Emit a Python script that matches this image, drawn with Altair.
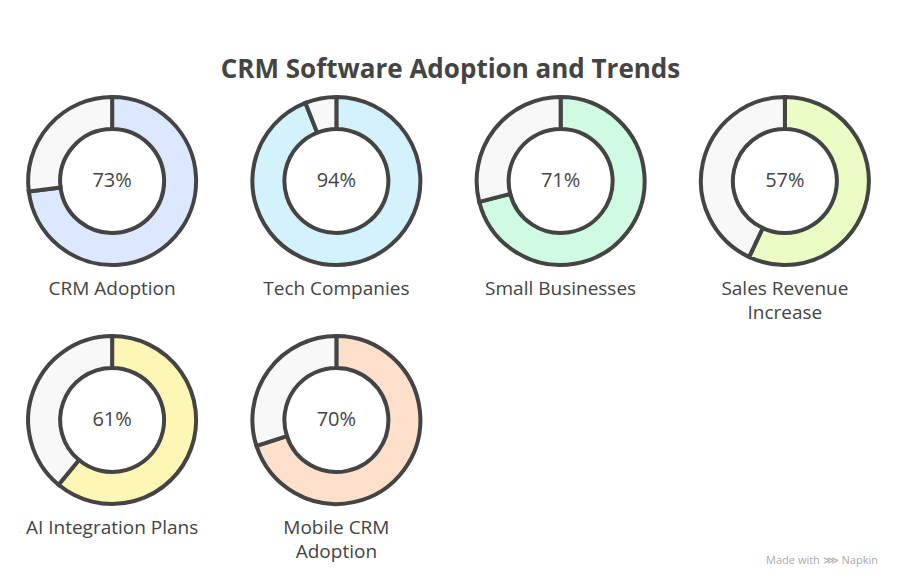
import altair as alt
import pandas as pd

categories = ["CRM Adoption", "Tech Companies", "Small Businesses",
              "Sales Revenue\nIncrease", "AI Integration Plans", "Mobile CRM\nAdoption"]
values = [73, 94, 71, 57, 61, 70]
colors = ["#dbe8fe", "#d4f2fc", "#cffbe3", "#ebfdc4", "#fef6b4", "#fde0cb"]
cols = [0, 1, 2, 3, 0, 1]
rows = [0, 0, 0, 0, 1, 1]
rest_color = "#f8f8f8"

seg_rows = []
lab_rows = []
for cat, v, c, cx, ry in zip(categories, values, colors, cols, rows):
    seg_rows.append(dict(cat=cat, start=0, end=v, fill=c, col=cx + 0.5, row=ry))
    seg_rows.append(dict(cat=cat, start=v, end=100, fill=rest_color, col=cx + 0.5, row=ry))
    lab_rows.append(dict(cat=cat, pct=f"{v}%", col=cx + 0.5, row=ry))
segs = pd.DataFrame(seg_rows)
labs = pd.DataFrame(lab_rows)

FONT = "Open Sans"
xs = alt.Scale(domain=[0, 4], range=[0, 897])
ys = alt.Scale(domain=[0, 1], range=[91, 330])
X = alt.X("col:Q", scale=xs, axis=None)
Y = alt.Y("row:Q", scale=ys, axis=None)

arcs = alt.Chart(segs).mark_arc(
    radius=84, radius2=52, stroke="#444444", strokeWidth=4
).encode(
    x=X, y=Y,
    theta=alt.Theta("start:Q", scale=alt.Scale(domain=[0, 100], range=[0, 6.283185307])),
    theta2="end:Q",
    fill=alt.Fill("fill:N", scale=None),
)

pct = alt.Chart(labs).mark_text(
    font=FONT, fontSize=20, color="#444444", baseline="middle", align="center"
).encode(x=X, y=Y, text="pct:N")

names = alt.Chart(labs).mark_text(
    font=FONT, fontSize=19, color="#444444", baseline="top", align="center",
    dy=99, lineBreak="\n", lineHeight=24
).encode(x=X, y=Y, text="cat:N")

credit = alt.Chart(pd.DataFrame({"t": ["Made with ⋙ Napkin"]})).mark_text(
    font=FONT, fontSize=11, color="#aaaaaa", align="right", baseline="middle"
).encode(x=alt.value(878), y=alt.value(471), text="t:N")

chart = alt.layer(arcs, pct, names, credit).properties(
    width=901, height=498,
    autosize=alt.AutoSizeParams(type="none"),
    padding={"top": 90, "left": 0, "right": 0, "bottom": 0},
    title=alt.TitleParams(
        "CRM Software Adoption and Trends", font=FONT, fontSize=26,
        fontWeight="bold", color="#444444", anchor="middle", offset=6
    ),
).configure_view(stroke=None)

chart.save("out.html", embed_options={"renderer": "svg", "actions": False})
